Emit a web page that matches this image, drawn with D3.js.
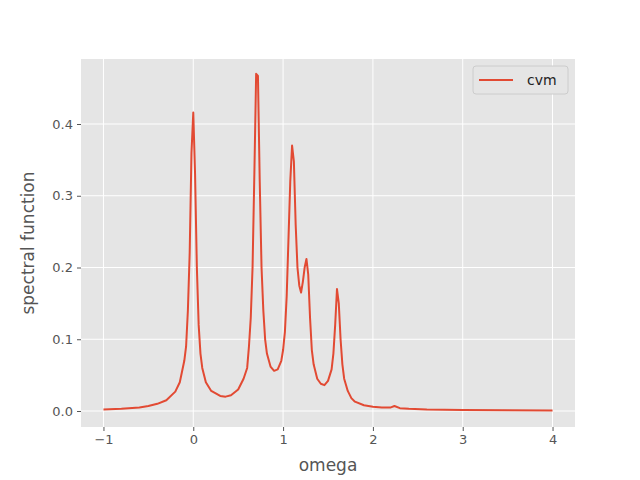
<!DOCTYPE html>
<html><head><meta charset="utf-8">
<script src="https://cdn.jsdelivr.net/npm/d3@7"></script>
<style>body{margin:0;background:#fff}text{font-family:"DejaVu Sans",sans-serif}</style>
</head><body><svg width="640" height="480"></svg>
<script>
// omega values and spectral function
let omega = [-1,-0.8,-0.6,-0.5,-0.4,-0.3,-0.2,-0.15,-0.1,-0.08,-0.06,-0.04,-0.02,0,0.02,0.04,0.06,0.08,0.1,0.14,0.2,0.3,0.36,0.42,0.5,0.56,0.6,0.62,0.64,0.66,0.68,0.70,0.72,0.74,0.76,0.78,0.8,0.82,0.86,0.9,0.94,0.98,1.0,1.02,1.04,1.06,1.08,1.1,1.12,1.14,1.16,1.18,1.2,1.22,1.24,1.26,1.28,1.3,1.32,1.34,1.38,1.42,1.46,1.5,1.54,1.56,1.58,1.6,1.62,1.64,1.66,1.68,1.72,1.76,1.8,1.9,2.0,2.1,2.2,2.24,2.3,2.4,2.6,3.0,3.5,4]
let cvm = [0.002,0.003,0.005,0.007,0.01,0.015,0.027,0.04,0.07,0.09,0.14,0.22,0.36,0.416,0.33,0.2,0.12,0.08,0.06,0.04,0.028,0.021,0.02,0.022,0.03,0.045,0.06,0.09,0.13,0.2,0.33,0.47,0.467,0.32,0.2,0.14,0.1,0.08,0.062,0.056,0.058,0.07,0.085,0.11,0.16,0.24,0.32,0.37,0.348,0.26,0.2,0.175,0.165,0.18,0.2,0.212,0.19,0.13,0.085,0.065,0.045,0.038,0.036,0.042,0.058,0.08,0.12,0.17,0.15,0.1,0.065,0.045,0.028,0.018,0.013,0.008,0.006,0.005,0.005,0.007,0.004,0.003,0.002,0.0015,0.001,0.0008]
let xTicks = [-1,0,1,2,3,4]
let yTicks = [0,0.1,0.2,0.3,0.4]

let svg = d3.select("svg")
let pl=81, pr=575, pt=59, pb=427
let x = d3.scaleLinear().domain([-1.25,4.25]).range([pl,pr])
let y = d3.scaleLinear().domain([-0.0223,0.4906]).range([pb,pt])

svg.append("rect").attr("x",pl).attr("y",pt).attr("width",pr-pl).attr("height",pb-pt).attr("fill","#e5e5e5")

// grid
svg.selectAll(".gx").data(xTicks).enter().append("line")
    .attr("x1",d=>x(d)).attr("x2",d=>x(d)).attr("y1",pt).attr("y2",pb)
    .attr("stroke","#fff").attr("stroke-width",1)
svg.selectAll(".gy").data(yTicks).enter().append("line")
    .attr("y1",d=>y(d)).attr("y2",d=>y(d)).attr("x1",pl).attr("x2",pr)
    .attr("stroke","#fff").attr("stroke-width",1)

let xAxis = svg.append("g").attr("transform",`translate(0,${pb})`)
    .call(d3.axisBottom(x).tickValues(xTicks).tickSize(4).tickPadding(4).tickFormat(d=>d<0?"\u2212"+(-d):d))
let yAxis = svg.append("g").attr("transform",`translate(${pl},0)`)
    .call(d3.axisLeft(y).tickValues(yTicks).tickSize(4).tickPadding(4).tickFormat(d3.format(".1f")))
for (let a of [xAxis,yAxis]) {
    a.select(".domain").remove()
    a.selectAll("line").attr("stroke","#555")
    a.selectAll("text").attr("fill","#555").attr("font-size",13).attr("font-family","DejaVu Sans")
}

let line = d3.line().x((d,i)=>x(omega[i])).y(d=>y(d))
svg.append("path").attr("d",line(cvm)).attr("fill","none")
    .attr("stroke","#e24a33").attr("stroke-width",2).attr("stroke-linejoin","round")

svg.append("text").attr("x",(pl+pr)/2).attr("y",471).attr("text-anchor","middle")
    .attr("font-size",17).attr("fill","#555").text("omega")
svg.append("text").attr("transform",`translate(34,${(pt+pb)/2}) rotate(-90)`).attr("text-anchor","middle")
    .attr("font-size",17).attr("fill","#555").text("spectral function")

// legend
let lg = svg.append("g")
lg.append("rect").attr("x",473).attr("y",66).attr("width",95).attr("height",28).attr("rx",3)
    .attr("fill","#e5e5e5").attr("stroke","#ccc").attr("stroke-width",1)
lg.append("line").attr("x1",479).attr("x2",513).attr("y1",80).attr("y2",80).attr("stroke","#e24a33").attr("stroke-width",2)
lg.append("text").attr("x",527).attr("y",85).attr("font-size",14).attr("fill","#222").text("cvm")
</script></body></html>
